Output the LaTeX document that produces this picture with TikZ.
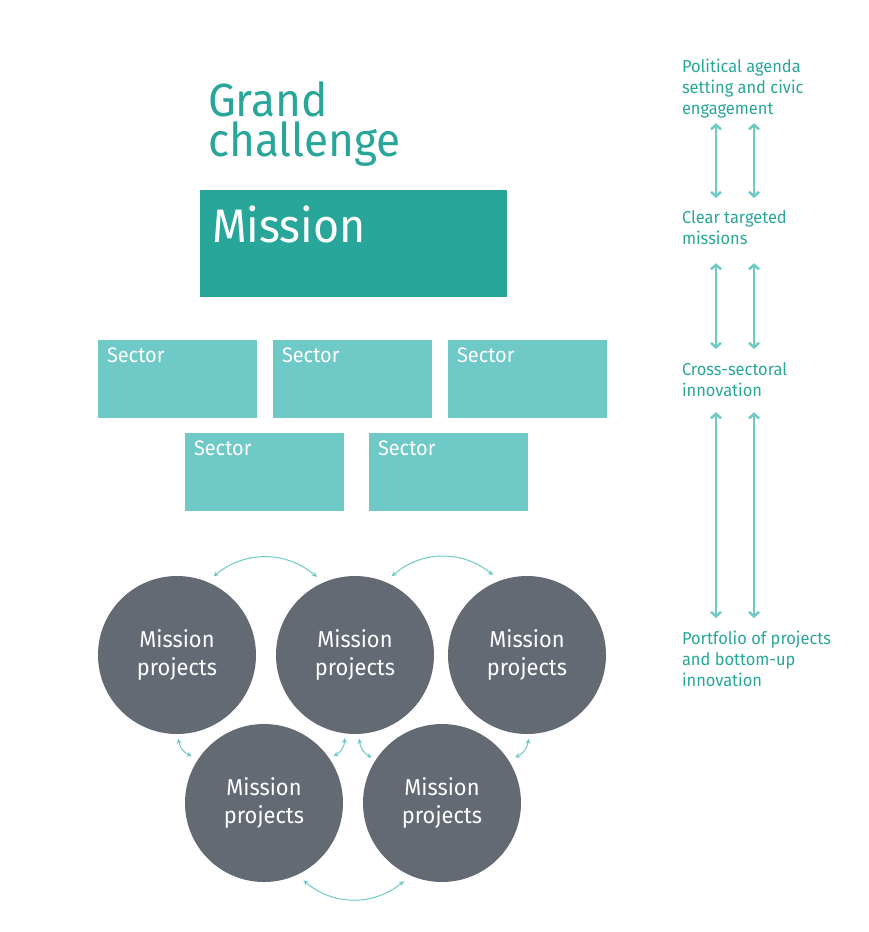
\documentclass[tikz,border=0pt]{standalone}
\usepackage{fontspec}
\setmainfont{Fira Sans}[FakeStretch=0.95]
\usetikzlibrary{positioning,calc,arrows.meta}
\definecolor{tealdark}{HTML}{29A69A}
\definecolor{teallight}{HTML}{6FC9C6}
\definecolor{slate}{HTML}{636A73}

\begin{document}
\begin{tikzpicture}
  [x=1pt, y=-1pt,
   every node/.style={inner sep=0pt, outer sep=0pt},
   heading/.style={text=tealdark, align=left, font=\fontsize{46.5}{40}\selectfont},
   missionbox/.style={fill=tealdark, minimum width=307pt, minimum height=107pt,
     label={[anchor=north west, xshift=12pt, yshift=-16pt, text=white, font=\fontsize{47}{47}\selectfont]north west:Mission}},
   sectorbox/.style={fill=teallight, minimum width=159pt, minimum height=78pt,
     label={[anchor=north west, xshift=9pt, yshift=-8pt, text=white, font=\fontsize{21}{21}\selectfont]north west:Sector}},
   project/.style={circle, fill=slate, minimum size=158pt, text=white, align=center,
     font=\fontsize{23}{28}\selectfont},
   level/.style={text=tealdark, align=left, font=\fontsize{17.3}{21}\selectfont},
   link/.style={teallight, line width=1pt, {Stealth[length=5pt,width=5pt]}-{Stealth[length=5pt,width=5pt]}},
   vlink/.style={teallight, line width=2.5pt, {Straight Barb[length=4.5pt,width=10pt]}-{Straight Barb[length=4.5pt,width=10pt]}}]
  \useasboundingbox (0,0) rectangle (868,932);

  % title and mission
  \node[heading, anchor=north west] (grand) at (208,82) {Grand\\challenge};
  \node[missionbox, anchor=north west] (mission) at (200,190) {};

  % sectors
  \node[sectorbox, anchor=north west] (s1) at (98,340) {};
  \node[sectorbox, right=16pt of s1] (s2) {};
  \node[sectorbox, right=16pt of s2] (s3) {};
  \node[sectorbox, anchor=north west] (s4) at (185,433) {};
  \node[sectorbox, right=25pt of s4] (s5) {};

  % mission projects
  \node[project] (p1) at (177,655) {Mission\\projects};
  \node[project, right=20pt of p1] (p2) {Mission\\projects};
  \node[project, right=14pt of p2] (p3) {Mission\\projects};
  \node[project] (p4) at (264,803) {Mission\\projects};
  \node[project, right=20pt of p4] (p5) {Mission\\projects};

  \draw[link] ($(p1.center)!1.1!(p1.65)$) to[bend left=40] ($(p2.center)!1.1!(p2.116)$);
  \draw[link] ($(p2.center)!1.1!(p2.65)$) to[bend left=40] ($(p3.center)!1.1!(p3.113)$);
  \draw[link] ($(p4.center)!1.1!(p4.-63)$) to[bend right=40] ($(p5.center)!1.1!(p5.-116)$);
  \draw[link] ($(p1.center)!1.06!(p1.-89)$) to[bend right=30] ($(p4.center)!1.09!(p4.147)$);
  \draw[link] ($(p2.center)!1.06!(p2.-97)$) to[bend left=30] ($(p4.center)!1.06!(p4.34)$);
  \draw[link] ($(p2.center)!1.06!(p2.-87)$) to[bend right=30] ($(p5.center)!1.06!(p5.147)$);
  \draw[link] ($(p3.center)!1.06!(p3.-89)$) to[bend left=30] ($(p5.center)!1.09!(p5.32)$);

  % levels on the right
  \node[level, anchor=north west] (agenda) at (682,59) {Political agenda\\setting and civic\\engagement};
  \node[level, anchor=north west] (clear) at (682,211) {Clear targeted\\missions};
  \node[level, anchor=north west] (cross) at (682,363) {Cross-sectoral\\innovation};
  \node[level, anchor=north west] (portfolio) at (682,631) {Portfolio of projects\\and bottom-up\\innovation};

  \foreach \dx in {34,72} {
    \draw[vlink, shorten <=5pt, shorten >=13pt] ($(agenda.south west)+(\dx,0)$) -- ($(clear.north west)+(\dx,0)$);
    \draw[vlink, shorten <=18pt, shorten >=14pt] ($(clear.south west)+(\dx,0)$) -- ($(cross.north west)+(\dx,0)$);
    \draw[vlink, shorten <=15pt, shorten >=13pt] ($(cross.south west)+(\dx,0)$) -- ($(portfolio.north west)+(\dx,0)$);
  }
\end{tikzpicture}
\end{document}
